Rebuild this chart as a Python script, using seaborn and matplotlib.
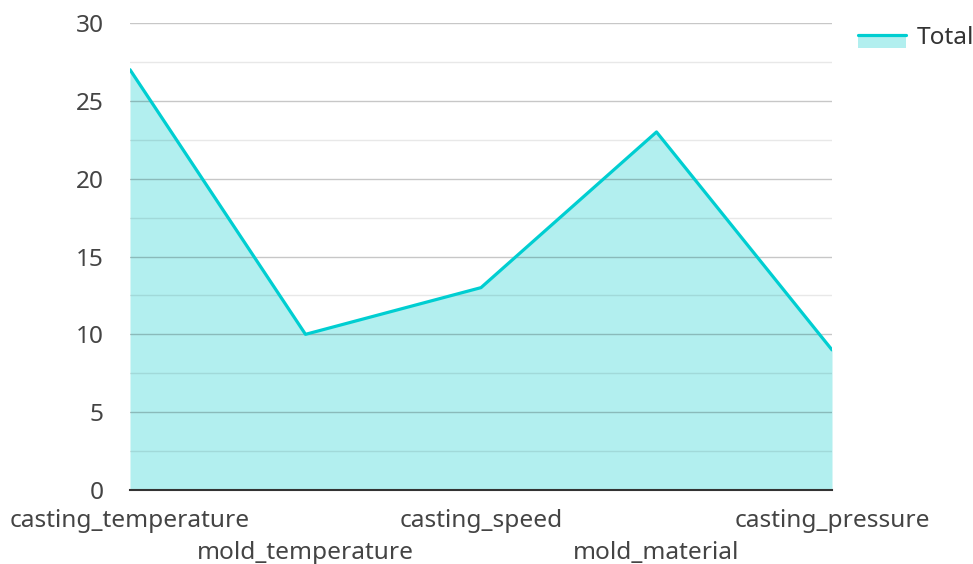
import numpy as np
import pandas as pd
import matplotlib
matplotlib.use("Agg")
import matplotlib.pyplot as plt
import seaborn as sns
from matplotlib.legend_handler import HandlerBase
from matplotlib.patches import Rectangle
from matplotlib.lines import Line2D
from matplotlib.ticker import MultipleLocator

categories = ["casting_temperature", "mold_temperature", "casting_speed",
              "mold_material", "casting_pressure"]
totals = [27, 10, 13, 23, 9]

sns.set_style("white")
plt.rcParams['font.family'] = ['Noto Sans', 'DejaVu Sans']

line_color = '#00CED1'
fill_color = '#B2EFEF'
fsize = 17.6

df = pd.DataFrame({'x': np.arange(len(categories)), 'Total': totals})

fig = plt.figure(figsize=(9.73, 5.64), dpi=100)
ax = fig.add_axes([130/973, 74/564, 702/973, 467/564])

ax.fill_between(df['x'], df['Total'], 0, color=fill_color, linewidth=0, zorder=1)
sns.lineplot(x='x', y='Total', data=df, ax=ax, color=line_color, linewidth=2.3, zorder=3)

ax.set_xlim(0, len(categories) - 1)
ax.set_ylim(0, 30)
ax.yaxis.set_major_locator(MultipleLocator(5))
ax.yaxis.set_minor_locator(MultipleLocator(2.5))
ax.grid(which='major', axis='y', color='#000000', alpha=0.22, linewidth=1, zorder=2)
ax.grid(which='minor', axis='y', color='#000000', alpha=0.09, linewidth=1, zorder=2)
ax.set_axisbelow(False)
for s in ['top', 'right', 'left']:
    ax.spines[s].set_visible(False)
ax.spines['bottom'].set_color('#333333')
ax.spines['bottom'].set_linewidth(1.5)
ax.spines['bottom'].set_zorder(4)

ax.set_xticks(df['x'])
ax.set_xticklabels(categories)
ax.tick_params(axis='both', which='both', length=0, labelsize=fsize, colors='#444444')
ax.tick_params(axis='y', pad=19)
for i, t in enumerate(ax.xaxis.get_major_ticks()):
    t.set_pad(14 if i % 2 == 0 else 37)
ax.set_xlabel('')
ax.set_ylabel('')


class AreaHandler(HandlerBase):
    def create_artists(self, legend, orig, x0, y0, width, height, fontsize, trans):
        shift = 2.4
        top = y0 + height * 0.85 - shift
        r = Rectangle((x0, y0 - shift), width, height * 0.85, facecolor=fill_color,
                      edgecolor='none', transform=trans)
        l = Line2D([x0, x0 + width], [top, top],
                   color=line_color, linewidth=2.3, transform=trans)
        return [r, l]


handle = Rectangle((0, 0), 1, 1)
fig.legend([handle], ['Total'], handler_map={Rectangle: AreaHandler()},
           loc='upper left', bbox_to_anchor=(836/973, 1 - 4/564), frameon=False,
           fontsize=fsize, handlelength=1.95, handleheight=0.6, handletextpad=0.45,
           labelcolor='#333333')

fig.savefig('out.png', dpi=100)
